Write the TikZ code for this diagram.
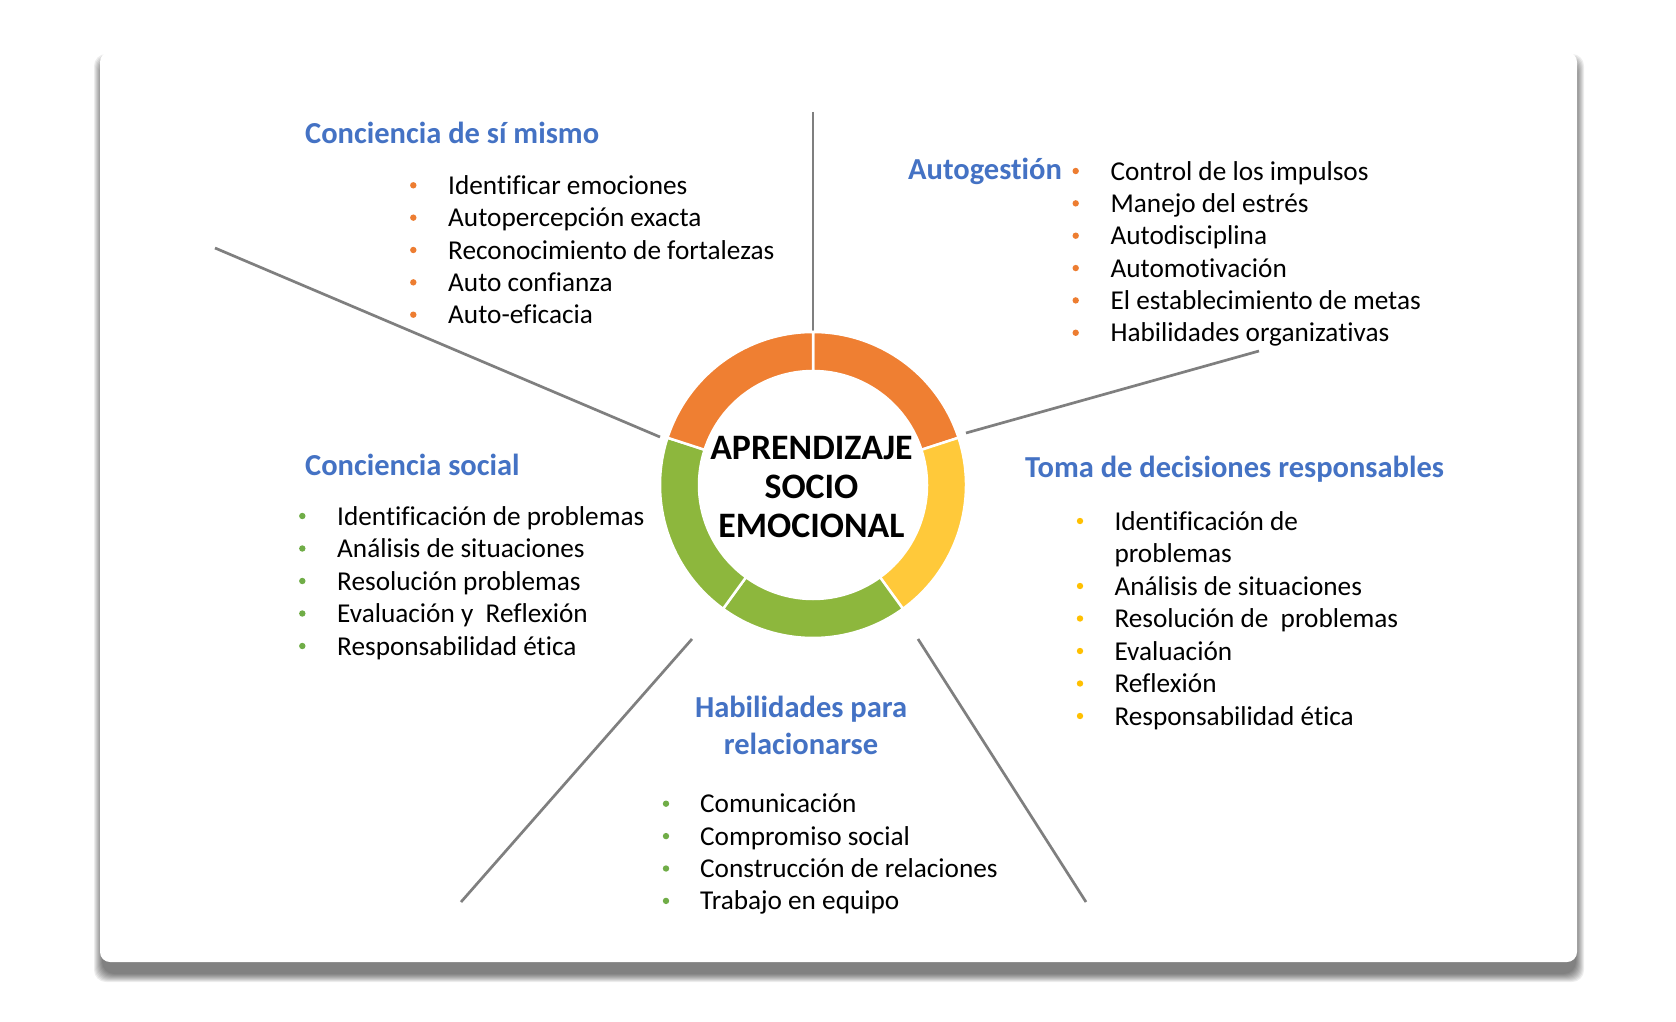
\documentclass[tikz,border=0pt]{standalone}
\usepackage{fontspec}
\setmainfont{Carlito}[Ligatures=NoCommon]
\definecolor{titleblue}{HTML}{4472C4}
\definecolor{ringorange}{HTML}{EF7F32}
\definecolor{ringyellow}{HTML}{FFC93A}
\definecolor{ringgreen}{HTML}{8DB73D}
\definecolor{bulorange}{HTML}{ED7D31}
\definecolor{bulyellow}{HTML}{FFC000}
\definecolor{bulgreen}{HTML}{70AD47}
\definecolor{linegray}{HTML}{7F7F7F}
\begin{document}
\begin{tikzpicture}[x=1pt,y=-1pt,
  body/.style={anchor=base west, inner sep=0pt, font=\fontsize{27.25}{32}\selectfont, text=black},
  ttl/.style={anchor=base west, inner sep=0pt, font=\fontsize{30.5}{36}\selectfont\bfseries, text=titleblue},
  ttlc/.style={anchor=base, inner sep=0pt, font=\fontsize{30.5}{36}\selectfont\bfseries, text=titleblue},
  ctr/.style={anchor=base, inner sep=0pt, font=\fontsize{35.8}{40}\selectfont\bfseries, text=black},
  bul/.style={circle, inner sep=0pt, minimum size=6.4pt, fill=#1},
  conn/.style={draw=linegray, line width=2.7pt},
  seg/.style={fill=#1, draw=white, line width=2.5pt, line join=miter}
]
\useasboundingbox (0,0) rectangle (1676,1022);
\fill[white] (0,0) rectangle (1676,1022);
% shadow
\foreach \k in {0,...,8}
  \fill[black, opacity=0.07, rounded corners=12pt]
    ({102-\k}, {62-\k}) rectangle ({1576+\k}, {974+\k});
% card
\fill[white, rounded corners=10pt] (100,52) rectangle (1577,962);

% connectors
\coordinate (l1a) at (813,112);  \coordinate (l1b) at (813,335);
\coordinate (l2a) at (966,433);  \coordinate (l2b) at (1259,351);
\coordinate (l3a) at (660,437);  \coordinate (l3b) at (215,248);
\coordinate (l4a) at (692,639);  \coordinate (l4b) at (461,902);
\coordinate (l5a) at (918,639);  \coordinate (l5b) at (1086,902);
\draw[conn] (l1a) -- (l1b);
\draw[conn] (l2a) -- (l2b);
\draw[conn] (l3a) -- (l3b);
\draw[conn] (l4a) -- (l4b);
\draw[conn] (l5a) -- (l5b);

% ring
\begin{scope}[shift={(813,485)}, y=1pt]
\foreach \a/\b/\c in {90/18/ringorange, 18/-54/ringyellow, -54/-126/ringgreen, -126/-198/ringgreen, 162/90/ringorange}
  \filldraw[seg=\c] (\a:153) arc[start angle=\a, end angle=\b, radius=153]
     -- (\b:114) arc[start angle=\b, end angle=\a, radius=114] -- cycle;
\end{scope}
\node[ctr] (c1) at (811.5,459.3) {APRENDIZAJE};
\node[ctr] (c2) at (811.5,498.3) {SOCIO};
\node[ctr] (c3) at (811.5,537.3) {EMOCIONAL};

% Conciencia de si mismo
\node[ttl] (t1) at (305,143) {Conciencia de sí mismo};
\foreach \t [count=\i from 0] in {{Identificar emociones},{Autopercepción exacta},{Reconocimiento de fortalezas},{Auto confianza},{Auto-eficacia}} {
  \node[bul=bulorange] (a-b\i) at (413.3, 185.3+32.35*\i) {};
  \node[body] (a-t\i) at (448, 194.3+32.35*\i) {\t};
}

% Autogestion
\node[ttl] (t2) at (908,179) {Autogestión};
\foreach \t [count=\i from 0] in {{Control de los impulsos},{Manejo del estrés},{Autodisciplina},{Automotivación},{El establecimiento de metas},{Habilidades organizativas}} {
  \node[bul=bulorange] (g-b\i) at (1075.7, 171+32.35*\i) {};
  \node[body] (g-t\i) at (1110.4, 180+32.35*\i) {\t};
}

% Conciencia social
\node[ttl] (t3) at (305,475) {Conciencia social};
\foreach \t [count=\i from 0] in {{Identificación de problemas},{Análisis de situaciones},{Resolución problemas},{Evaluación y\ \ Reflexión},{Responsabilidad ética}} {
  \node[bul=bulgreen] (s-b\i) at (302.3, 516+32.5*\i) {};
  \node[body] (s-t\i) at (337, 525+32.5*\i) {\t};
}

% Toma de decisiones
\node[ttl] (t4) at (1025,477) {Toma de decisiones responsables};
\node[bul=bulyellow] (d-b0) at (1080,521) {};
\node[body] (d-t0) at (1114.3,530) {Identificación de};
\node[body] (d-t0b) at (1114.3,562.5) {problemas};
\foreach \t [count=\i from 1] in {{Análisis de situaciones},{Resolución de\ \ problemas},{Evaluación},{Reflexión},{Responsabilidad ética}} {
  \node[bul=bulyellow] (d-b\i) at (1080, 553.5+32.5*\i) {};
  \node[body] (d-t\i) at (1114.3, 562.5+32.5*\i) {\t};
}

% Habilidades para relacionarse
\node[ttlc] (t5a) at (801,717.3) {Habilidades para};
\node[ttlc] (t5b) at (801,754) {relacionarse};
\foreach \t [count=\i from 0] in {{Comunicación},{Compromiso social},{Construcción de relaciones},{Trabajo en equipo}} {
  \node[bul=bulgreen] (h-b\i) at (666, 803.7+32.4*\i) {};
  \node[body] (h-t\i) at (700, 812.7+32.4*\i) {\t};
}
\end{tikzpicture}
\end{document}
